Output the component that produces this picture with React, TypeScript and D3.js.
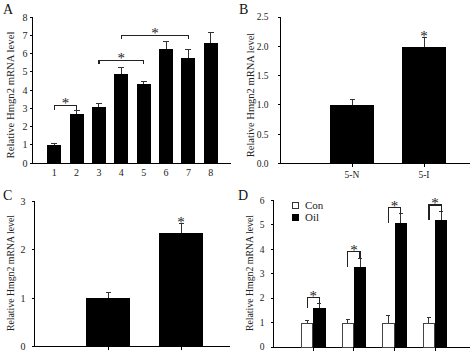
import React from "react";
import * as d3 from "d3";

const W = 474;
const H = 351;
const FONT = "'Liberation Serif', 'Times New Roman', serif";

// Panel A
const catsA = ["1", "2", "3", "4", "5", "6", "7", "8"];
const valsA = [1.0, 2.68, 3.07, 4.85, 4.35, 6.27, 5.73, 6.58];
const errA = [0.09, 0.17, 0.2, 0.38, 0.14, 0.37, 0.5, 0.57];
const ticksA = [0, 1, 2, 3, 4, 5, 6, 7, 8];
const sigA = [
  { a: "1", b: "2", y: 3.13 },
  { a: "3", b: "5", y: 5.62 },
  { a: "4", b: "7", y: 7.0 },
];

// Panel B
const catsB = ["5-N", "5-I"];
const valsB = [1.0, 1.98];
const errB = [0.09, 0.17];
const ticksB = [0, 0.5, 1.0, 1.5, 2.0, 2.5];
const starB = [false, true];

// Panel C
const catsC = ["c1", "c2"];
const valsC = [1.0, 2.34];
const errC = [0.12, 0.19];
const ticksC = [0, 1, 2, 3];
const starC = [false, true];

// Panel D
const groupsD = ["g1", "g2", "g3", "g4"];
const seriesD = ["Con", "Oil"];
const conD = [1.0, 1.0, 1.0, 1.0];
const conErrD = [0.07, 0.12, 0.29, 0.22];
const oilD = [1.58, 3.28, 5.07, 5.21];
const oilErrD = [0.2, 0.35, 0.4, 0.33];
const bracketD = [2.02, 3.9, 5.7, 5.81];
const ticksD = [0, 1, 2, 3, 4, 5, 6];

const YTITLE = "Relative Hmgn2 mRNA level";

function YAxis({ x, y, ticks, fmt, fontSize, labelGap }: any) {
  const [r0, r1] = y.range();
  return (
    <g>
      <line x1={x} x2={x} y1={r0} y2={r1} stroke="#000" strokeWidth={1} />
      {ticks.map((t: number) => (
        <g key={t}>
          <line x1={x - 3} x2={x} y1={y(t)} y2={y(t)} stroke="#000" strokeWidth={1} />
          <text
            x={x - labelGap}
            y={y(t)}
            dy="0.35em"
            textAnchor="end"
            fontSize={fontSize}
            fontFamily={FONT}
            fill="#222"
          >
            {fmt(t)}
          </text>
        </g>
      ))}
    </g>
  );
}

function YTitle({ x, cy, fontSize }: any) {
  return (
    <text
      transform={`translate(${x},${cy}) rotate(-90)`}
      textAnchor="middle"
      dy="0.35em"
      fontSize={fontSize}
      fontFamily={FONT}
      fill="#222"
    >
      {YTITLE}
    </text>
  );
}

function ErrBar({ cx, yTop, yVal, cap }: any) {
  return (
    <g stroke="#333" strokeWidth={1}>
      <line x1={cx} x2={cx} y1={yVal} y2={yTop} />
      <line x1={cx - cap / 2} x2={cx + cap / 2} y1={yTop} y2={yTop} />
    </g>
  );
}

// star centred at (x, cy)
function Star({ x, cy, size }: any) {
  return (
    <text x={x} y={cy + size * 0.5} textAnchor="middle" fontSize={size} fontFamily={FONT} fill="#222">
      *
    </text>
  );
}

function PanelLabel({ x, y, t }: any) {
  return (
    <text x={x} y={y} fontSize={14} fontFamily={FONT} fill="#111">
      {t}
    </text>
  );
}

export default function App() {
  const xA = d3.scaleBand<string>().domain(catsA).range([43, 222]).paddingInner(0.37).paddingOuter(0.185);
  const yA = d3.scaleLinear().domain([0, 8]).range([163, 17]);
  const axA = 32.5;

  const xB = d3.scaleBand<string>().domain(catsB).range([316, 460]).paddingInner(0.39).paddingOuter(0.195);
  const yB = d3.scaleLinear().domain([0, 2.5]).range([163.5, 17]);
  const axB = 280.5;

  const xC = d3.scaleBand<string>().domain(catsC).range([71.5, 217.5]).paddingInner(0.4).paddingOuter(0.2);
  const yC = d3.scaleLinear().domain([0, 3]).range([346.5, 201]);
  const axC = 34.5;

  const xD = d3.scaleBand<string>().domain(groupsD).range([293, 455.4]).paddingInner(0.39).paddingOuter(0.195);
  const xDi = d3.scaleBand<string>().domain(seriesD).range([0, xD.bandwidth()]);
  const yD = d3.scaleLinear().domain([0, 6]).range([347, 200.3]);
  const axD = 273.5;

  const fmtInt = (t: number) => String(t);
  const fmt1 = d3.format(".1f");
  const STAR = 15;

  return (
    <svg
      width={W}
      height={H}
      style={{ position: "absolute", left: 0, top: 0, background: "#fff" }}
      shapeRendering="crispEdges"
    >
      <rect x={0} y={0} width={W} height={H} fill="#fff" />

      {/* ---------- Panel A ---------- */}
      <PanelLabel x={3} y={14} t="A" />
      <YTitle x={10} cy={95} fontSize={10.7} />
      <YAxis x={axA} y={yA} ticks={ticksA} fmt={fmtInt} fontSize={10} labelGap={5} />
      <line x1={axA} x2={231} y1={yA(0)} y2={yA(0)} stroke="#000" strokeWidth={1} />
      {catsA.map((c, i) => {
        const x0 = xA(c)!;
        const cx = x0 + xA.bandwidth() / 2;
        return (
          <g key={c}>
            <ErrBar cx={cx} yTop={yA(valsA[i] + errA[i])} yVal={yA(valsA[i])} cap={6} />
            <rect x={x0} y={yA(valsA[i])} width={xA.bandwidth()} height={yA(0) - yA(valsA[i])} fill="#000" />
            <text x={cx} y={176} textAnchor="middle" fontSize={10} fontFamily={FONT} fill="#222">
              {c}
            </text>
          </g>
        );
      })}
      {sigA.map((s, i) => {
        const xa = xA(s.a)! + xA.bandwidth() / 2;
        const xb = xA(s.b)! + xA.bandwidth() / 2;
        const yy = yA(s.y);
        return (
          <g key={i}>
            <path d={`M${xa},${yy + 4}V${yy}H${xb}V${yy + 4}`} fill="none" stroke="#222" strokeWidth={1.2} />
            <Star x={(xa + xb) / 2} cy={yy - 5} size={STAR} />
          </g>
        );
      })}

      {/* ---------- Panel B ---------- */}
      <PanelLabel x={239} y={14} t="B" />
      <YTitle x={250} cy={95} fontSize={10.5} />
      <YAxis x={axB} y={yB} ticks={ticksB} fmt={fmt1} fontSize={9.5} labelGap={12} />
      <line x1={axB} x2={470} y1={yB(0)} y2={yB(0)} stroke="#000" strokeWidth={1} />
      {catsB.map((c, i) => {
        const x0 = xB(c)!;
        const cx = x0 + xB.bandwidth() / 2;
        return (
          <g key={c}>
            <ErrBar cx={cx} yTop={yB(valsB[i] + errB[i])} yVal={yB(valsB[i])} cap={5} />
            <rect x={x0} y={yB(valsB[i])} width={xB.bandwidth()} height={yB(0) - yB(valsB[i])} fill="#000" />
            <line x1={cx} x2={cx} y1={yB(0)} y2={yB(0) + 3} stroke="#000" />
            <text x={cx} y={178} textAnchor="middle" fontSize={9.5} fontFamily={FONT} fill="#222">
              {c}
            </text>
            {starB[i] && <Star x={cx} cy={yB(valsB[i] + errB[i]) - 4} size={STAR} />}
          </g>
        );
      })}

      {/* ---------- Panel C ---------- */}
      <PanelLabel x={3} y={200} t="C" />
      <YTitle x={11} cy={273} fontSize={9.8} />
      <YAxis x={axC} y={yC} ticks={ticksC} fmt={fmtInt} fontSize={10} labelGap={9} />
      <line x1={axC} x2={230} y1={yC(0)} y2={yC(0)} stroke="#000" strokeWidth={1} />
      {catsC.map((c, i) => {
        const x0 = xC(c)!;
        const cx = x0 + xC.bandwidth() / 2;
        return (
          <g key={c}>
            <ErrBar cx={cx} yTop={yC(valsC[i] + errC[i])} yVal={yC(valsC[i])} cap={5} />
            <rect x={x0} y={yC(valsC[i])} width={xC.bandwidth()} height={yC(0) - yC(valsC[i])} fill="#000" />
            <line x1={cx} x2={cx} y1={yC(0)} y2={yC(0) + 3} stroke="#000" />
            {starC[i] && <Star x={cx} cy={yC(valsC[i] + errC[i]) - 4} size={STAR} />}
          </g>
        );
      })}

      {/* ---------- Panel D ---------- */}
      <PanelLabel x={238} y={200} t="D" />
      <YTitle x={250} cy={273} fontSize={9.8} />
      <YAxis x={axD} y={yD} ticks={ticksD} fmt={fmtInt} fontSize={9.5} labelGap={9} />
      <line x1={axD} x2={470} y1={yD(0)} y2={yD(0)} stroke="#000" strokeWidth={1} />
      {groupsD.map((g, i) => {
        const gx = xD(g)!;
        const cxCon = gx + xDi("Con")! + xDi.bandwidth() / 2;
        const cxOil = gx + xDi("Oil")! + xDi.bandwidth() / 2;
        const mid = gx + xD.bandwidth() / 2;
        const yBr = yD(bracketD[i]);
        return (
          <g key={g}>
            <ErrBar cx={cxCon} yTop={yD(conD[i] + conErrD[i])} yVal={yD(conD[i])} cap={4} />
            <ErrBar cx={cxOil} yTop={yD(oilD[i] + oilErrD[i])} yVal={yD(oilD[i])} cap={4} />
            <rect
              x={gx + xDi("Con")! + 0.5}
              y={yD(conD[i]) + 0.5}
              width={xDi.bandwidth() - 1}
              height={yD(0) - yD(conD[i]) - 0.5}
              fill="#fff"
              stroke="#444"
              strokeWidth={1}
            />
            <rect x={gx + xDi("Oil")!} y={yD(oilD[i])} width={xDi.bandwidth()} height={yD(0) - yD(oilD[i])} fill="#000" />
            <line x1={mid} x2={mid} y1={yD(0)} y2={yD(0) + 4} stroke="#000" />
            <path
              d={`M${cxCon},${yD(oilD[i])}V${yBr}H${cxOil}V${yD(oilD[i] + oilErrD[i])}`}
              fill="none"
              stroke="#222"
              strokeWidth={1.2}
            />
            <Star x={(cxCon + cxOil) / 2} cy={yBr - 4.5} size={STAR} />
          </g>
        );
      })}
      {/* legend */}
      <rect x={292.5} y={202.5} width={6} height={6} fill="#fff" stroke="#333" />
      <text x={305} y={209} fontSize={11} fontFamily={FONT} fill="#222">Con</text>
      <rect x={292.5} y={214.5} width={6} height={6} fill="#000" stroke="#000" />
      <text x={305} y={221} fontSize={11} fontFamily={FONT} fill="#222">Oil</text>
    </svg>
  );
}
